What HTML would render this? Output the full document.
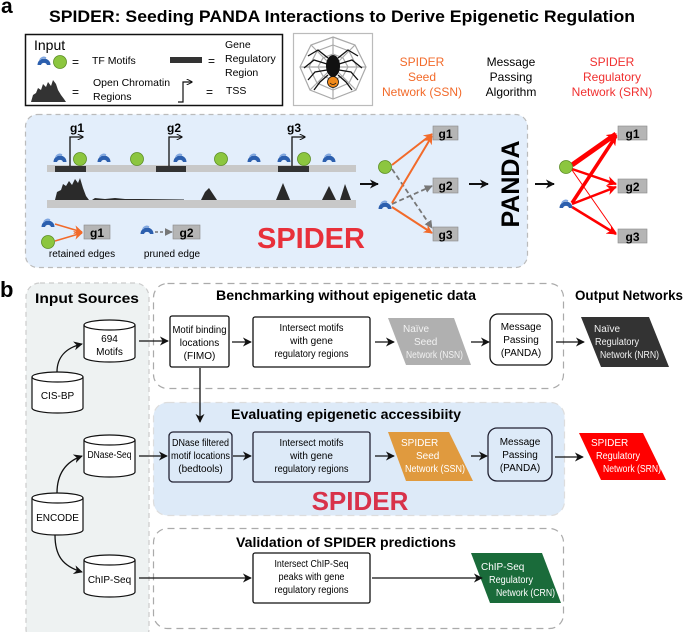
<!DOCTYPE html>
<html><head><meta charset="utf-8"><style>
html,body{margin:0;padding:0;background:#fff;}
svg{display:block;font-family:"Liberation Sans",Arial,sans-serif;}
</style></head><body>
<svg width="685" height="632" viewBox="0 0 685 632" xmlns="http://www.w3.org/2000/svg">
<defs>
<marker id="ak" viewBox="0 0 10 10" refX="9" refY="5" markerWidth="9" markerHeight="9" markerUnits="userSpaceOnUse" orient="auto"><path d="M0,0 L10,5 L0,10 L3,5 Z" fill="#111"/></marker>
<marker id="ao" viewBox="0 0 10 10" refX="9" refY="5" markerWidth="9" markerHeight="9" markerUnits="userSpaceOnUse" orient="auto"><path d="M0,0 L10,5 L0,10 L3,5 Z" fill="#f26a2a"/></marker>
<marker id="ag" viewBox="0 0 10 10" refX="9" refY="5" markerWidth="8" markerHeight="8" markerUnits="userSpaceOnUse" orient="auto"><path d="M0,0 L10,5 L0,10 Z" fill="#777"/></marker>
<marker id="ar" viewBox="0 0 10 10" refX="9" refY="5" markerWidth="10" markerHeight="10" markerUnits="userSpaceOnUse" orient="auto"><path d="M0,0 L10,5 L0,10 L3,5 Z" fill="#f00"/></marker>
<marker id="at" viewBox="0 0 10 10" refX="9" refY="5" markerWidth="6" markerHeight="6" markerUnits="userSpaceOnUse" orient="auto"><path d="M0,0 L10,5 L0,10" fill="none" stroke="#111" stroke-width="1.6"/></marker>
<g id="bm"><path d="M-6.5,3 A6.5,6.5 0 1 1 6.5,3 L3,3 A3.2,3.2 0 0 0 -3,3 Z" fill="#2c5fae"/><path d="M-4,-2 A4,4 0 0 1 2,-4" stroke="#7fa6e0" stroke-width="1.5" fill="none"/></g>
<g id="gm"><circle r="6.5" fill="#8cc63f" stroke="#5b8d24" stroke-width="0.8"/></g>
</defs>

<!-- ===== Part a ===== -->
<text x="1" y="13" font-size="21" font-weight="bold">a</text>
<text x="49" y="22" font-size="17" font-weight="bold" textLength="586" lengthAdjust="spacingAndGlyphs">SPIDER: Seeding PANDA Interactions to Derive Epigenetic Regulation</text>

<rect x="25.5" y="34.5" width="257" height="71" fill="#fff" stroke="#111" stroke-width="1.5"/>
<text x="34" y="50" font-size="14">Input</text>
<use href="#bm" x="44" y="62"/><use href="#gm" x="60" y="62"/>
<text x="72" y="66" font-size="12">=</text>
<text x="92" y="64" font-size="10.5">TF Motifs</text>
<rect x="170" y="57" width="32" height="6" fill="#333"/>
<text x="208" y="65" font-size="12">=</text>
<text x="225" y="48" font-size="10.5">Gene</text>
<text x="225" y="62" font-size="10.5">Regulatory</text>
<text x="225" y="76" font-size="10.5">Region</text>
<path d="M31,102 L33,95 L36,93 L38,88 L41,90 L43,84 L46,87 L48,82 L51,86 L53,80 L56,84 L58,90 L61,95 L64,99 L66,102 Z" fill="#333"/>
<text x="72" y="96" font-size="12">=</text>
<text x="93" y="86" font-size="10.5">Open Chromatin</text>
<text x="93" y="100" font-size="10.5">Regions</text>
<path d="M178,102 L183,102 L183,82 L192,82" fill="none" stroke="#111" stroke-width="1.2" marker-end="url(#at)"/>
<text x="206" y="96" font-size="12">=</text>
<text x="226" y="94" font-size="10.5">TSS</text>

<rect x="293.5" y="33.5" width="79" height="72" fill="#fff" stroke="#bbb" stroke-width="1.2"/>
<g fill="none" stroke="#aaa" stroke-width="1.2">
<polygon points="333,37 355,45 366,67 356,90 333,99 310,90 300,67 311,45"/>
<polygon points="333,45 349,51 357,67 349,83 333,90 317,83 309,67 317,51"/>
<polygon points="333,54 343,58 348,67 343,76 333,80 323,76 318,67 323,58"/>
<path d="M333,37 L333,99 M300,67 L366,67 M311,45 L356,90 M355,45 L310,90"/>
</g>
<g stroke="#111" stroke-width="1.3" fill="none">
<path d="M328,58 L318,50 L308,56 M327,64 L314,60 L304,68 M327,70 L315,72 L308,80 M328,75 L320,82 L314,90"/>
<path d="M338,58 L348,50 L358,56 M339,64 L352,60 L362,68 M339,70 L351,72 L358,80 M338,75 L346,82 L352,90"/>
</g>
<ellipse cx="333" cy="66" rx="7" ry="11" fill="#111"/>
<circle cx="333" cy="82" r="5.5" fill="#f08a1c" stroke="#111" stroke-width="0.8"/>
<path d="M330,83 Q333,86 336,83" stroke="#111" fill="none" stroke-width="0.8"/>

<g font-size="12" text-anchor="middle">
<text x="422" y="66" fill="#f26a2a">SPIDER</text>
<text x="422" y="81" fill="#f26a2a">Seed</text>
<text x="422" y="96" fill="#f26a2a">Network (SSN)</text>
<text x="511" y="66">Message</text>
<text x="511" y="81">Passing</text>
<text x="511" y="96">Algorithm</text>
<text x="612" y="66" fill="#f03030">SPIDER</text>
<text x="612" y="81" fill="#f03030">Regulatory</text>
<text x="612" y="96" fill="#f03030">Network (SRN)</text>
</g>

<rect x="25.5" y="114.5" width="502" height="153" rx="12" fill="#e3eefb" stroke="#bbb" stroke-width="1.2" stroke-dasharray="5,4"/>
<rect x="47" y="165" width="309" height="7" fill="#c8c8c8"/>
<rect x="55" y="166" width="31" height="6" fill="#333"/>
<rect x="156" y="166" width="30" height="6" fill="#333"/>
<rect x="278" y="166" width="31" height="6" fill="#333"/>
<g fill="none" stroke="#111" stroke-width="1.3">
<path d="M70,166 L70,137 L83,137" marker-end="url(#at)"/>
<path d="M169,166 L169,137 L182,137" marker-end="url(#at)"/>
<path d="M292,166 L292,137 L305,137" marker-end="url(#at)"/>
</g>
<g font-size="12" font-weight="bold" text-anchor="middle">
<text x="77" y="132">g1</text><text x="174" y="132">g2</text><text x="294" y="132">g3</text>
</g>
<use href="#bm" x="60" y="159"/><use href="#gm" x="80" y="159"/><use href="#bm" x="104" y="159"/><use href="#gm" x="137" y="159"/><use href="#bm" x="180" y="159"/><use href="#gm" x="221" y="159"/><use href="#bm" x="254" y="159"/><use href="#bm" x="284" y="159"/><use href="#gm" x="304" y="159"/><use href="#bm" x="329" y="159"/>
<rect x="47" y="200" width="309" height="8" fill="#c8c8c8"/>
<path d="M55,200 L57,192 L61,190 L63,184 L66,186 L69,181 L72,185 L75,179 L78,183 L80,178 L83,188 L86,196 L89,200 Z M92,200 L95,198 L105,199 L115,198 L125,199 L140,199 L184,199.5 L184,200 Z M201,200 L205,192 L209,188 L213,194 L217,200 Z M276,200 L283,183 L290,200 Z M322,200 L329,186 L336,200 Z M340,200 L345,184 L351,200 Z" fill="#2a2a2a"/>

<use href="#bm" x="48" y="224"/><use href="#gm" x="48" y="242"/>
<line x1="55" y1="224" x2="82" y2="232" stroke="#f26a2a" stroke-width="1.5" marker-end="url(#ao)"/>
<line x1="55" y1="241" x2="82" y2="233" stroke="#f26a2a" stroke-width="1.5" marker-end="url(#ao)"/>
<rect x="84" y="225" width="26" height="14" fill="#b5b5b5" stroke="#888" stroke-width="0.6"/>
<text x="97" y="237" font-size="12" font-weight="bold" text-anchor="middle">g1</text>
<use href="#bm" x="147" y="231"/>
<line x1="155" y1="232" x2="172" y2="232" stroke="#777" stroke-width="1.4" stroke-dasharray="3,2" marker-end="url(#ag)"/>
<rect x="173" y="225" width="27" height="14" fill="#b5b5b5" stroke="#888" stroke-width="0.6"/>
<text x="186.5" y="237" font-size="12" font-weight="bold" text-anchor="middle">g2</text>
<text x="82" y="257" font-size="10" text-anchor="middle">retained edges</text>
<text x="172" y="257" font-size="10" text-anchor="middle">pruned edge</text>
<text x="311" y="248" font-size="29" font-weight="bold" fill="#e8303a" text-anchor="middle">SPIDER</text>

<line x1="360" y1="184" x2="378" y2="184" stroke="#111" stroke-width="2" marker-end="url(#ak)"/>
<line x1="469" y1="184" x2="488" y2="184" stroke="#111" stroke-width="2" marker-end="url(#ak)"/>
<line x1="535" y1="184" x2="554" y2="184" stroke="#111" stroke-width="2" marker-end="url(#ak)"/>
<text x="0" y="0" font-size="25" font-weight="bold" text-anchor="middle" transform="translate(519,184) rotate(-90)">PANDA</text>

<line x1="392" y1="169" x2="432" y2="228" stroke="#777" stroke-width="1.8" stroke-dasharray="5,3" marker-end="url(#ag)"/>
<line x1="392" y1="204" x2="432" y2="186" stroke="#777" stroke-width="1.8" stroke-dasharray="5,3" marker-end="url(#ag)"/>
<line x1="392" y1="165" x2="432" y2="134" stroke="#f26a2a" stroke-width="2" marker-end="url(#ao)"/>
<line x1="392" y1="203" x2="432" y2="136" stroke="#f26a2a" stroke-width="2" marker-end="url(#ao)"/>
<line x1="392" y1="207" x2="432" y2="233" stroke="#f26a2a" stroke-width="2" marker-end="url(#ao)"/>
<use href="#gm" x="385" y="167"/><use href="#bm" x="385" y="206"/>
<g font-size="12" font-weight="bold" text-anchor="middle">
<rect x="433" y="126" width="25" height="14" fill="#b5b5b5" stroke="#888" stroke-width="0.6"/><text x="445.5" y="138">g1</text>
<rect x="433" y="178" width="25" height="15" fill="#b5b5b5" stroke="#888" stroke-width="0.6"/><text x="445.5" y="190">g2</text>
<rect x="433" y="227" width="25" height="14" fill="#b5b5b5" stroke="#888" stroke-width="0.6"/><text x="445.5" y="239">g3</text>
</g>

<g stroke="#f00" fill="none">
<line x1="572" y1="165" x2="616" y2="134" stroke-width="5" marker-end="url(#ar)"/>
<line x1="572" y1="203" x2="616" y2="136" stroke-width="3.5" marker-end="url(#ar)"/>
<line x1="572" y1="169" x2="616" y2="184" stroke-width="2.5" marker-end="url(#ar)"/>
<line x1="572" y1="204" x2="616" y2="187" stroke-width="2.5" marker-end="url(#ar)"/>
<line x1="572" y1="170" x2="616" y2="233" stroke-width="1"/>
<line x1="572" y1="207" x2="616" y2="234" stroke-width="2.5" marker-end="url(#ar)"/>
</g>
<use href="#gm" x="566" y="167"/><use href="#bm" x="566" y="205"/>
<g font-size="12" font-weight="bold" text-anchor="middle">
<rect x="618" y="126" width="29" height="14" fill="#b5b5b5" stroke="#888" stroke-width="0.6"/><text x="632.5" y="138">g1</text>
<rect x="618" y="179" width="29" height="14" fill="#b5b5b5" stroke="#888" stroke-width="0.6"/><text x="632.5" y="191">g2</text>
<rect x="618" y="229" width="29" height="14" fill="#b5b5b5" stroke="#888" stroke-width="0.6"/><text x="632.5" y="241">g3</text>
</g>

<!-- ===== Part b ===== -->
<text x="0" y="297" font-size="22" font-weight="bold">b</text>
<rect x="26" y="283" width="123" height="360" rx="14" fill="#eef2f2" stroke="#ccc" stroke-width="1.2" stroke-dasharray="5,4"/>
<text x="87" y="303" font-size="14" font-weight="bold" text-anchor="middle" textLength="104" lengthAdjust="spacingAndGlyphs">Input Sources</text>
<rect x="153.5" y="283.5" width="410" height="105" rx="14" fill="none" stroke="#aaa" stroke-width="1.2" stroke-dasharray="7,5"/>
<text x="346" y="300" font-size="14" font-weight="bold" text-anchor="middle" textLength="260" lengthAdjust="spacingAndGlyphs">Benchmarking without epigenetic data</text>
<text x="575" y="300" font-size="14" font-weight="bold" textLength="108" lengthAdjust="spacingAndGlyphs">Output Networks</text>

<rect x="153.5" y="402.5" width="411" height="113" rx="14" fill="#ddeaf8" stroke="#ddd" stroke-width="1.2" stroke-dasharray="7,5"/>
<text x="346" y="419" font-size="14" font-weight="bold" text-anchor="middle" textLength="230" lengthAdjust="spacingAndGlyphs">Evaluating epigenetic accessibiity</text>
<text x="360" y="510" font-size="26" font-weight="bold" fill="#d8324a" text-anchor="middle">SPIDER</text>

<rect x="153.5" y="528.5" width="410" height="100" rx="14" fill="none" stroke="#aaa" stroke-width="1.2" stroke-dasharray="7,5"/>
<text x="346" y="547" font-size="14" font-weight="bold" text-anchor="middle" textLength="220" lengthAdjust="spacingAndGlyphs">Validation of SPIDER predictions</text>

<g fill="#fff" stroke="#111" stroke-width="1.2">
<path d="M84,325 L84,357 A25.5,5 0 0 0 135,357 L135,325"/><ellipse cx="109.5" cy="325" rx="25.5" ry="5"/>
<path d="M32,377 L32,408 A25.5,5 0 0 0 83,408 L83,377"/><ellipse cx="57.5" cy="377" rx="25.5" ry="5"/>
<path d="M84,440 L84,472 A25.5,5 0 0 0 135,472 L135,440"/><ellipse cx="109.5" cy="440" rx="25.5" ry="5"/>
<path d="M32,498 L32,530 A25.5,5 0 0 0 83,530 L83,498"/><ellipse cx="57.5" cy="498" rx="25.5" ry="5"/>
<path d="M84,560 L84,592 A25.5,5 0 0 0 135,592 L135,560"/><ellipse cx="109.5" cy="560" rx="25.5" ry="5"/>
</g>
<g font-size="10" text-anchor="middle">
<text x="109.5" y="342">694</text><text x="109.5" y="355">Motifs</text>
<text x="57.5" y="399">CIS-BP</text>
<text x="109.5" y="458" textLength="44" lengthAdjust="spacingAndGlyphs">DNase-Seq</text>
<text x="57.5" y="521">ENCODE</text>
<text x="109.5" y="583">ChIP-Seq</text>
</g>
<g fill="none" stroke="#111" stroke-width="1.3">
<path d="M57,372 C57,358 65,348 82,344" marker-end="url(#ak)"/>
<path d="M57,493 C57,475 65,462 82,456" marker-end="url(#ak)"/>
<path d="M55,535 C55,555 62,566 82,572" marker-end="url(#ak)"/>
</g>

<g fill="#fff" stroke="#111" stroke-width="1.3">
<rect x="170" y="316" width="59" height="51" rx="2"/>
<rect x="253" y="317" width="117" height="50" rx="2"/>
<rect x="490" y="314" width="62" height="51" rx="8"/>
</g>
<polygon points="388,318 454,318 471,365 406,365" fill="#b0b0b0"/>
<polygon points="581,317 649,317 669,367 601,367" fill="#333"/>
<g font-size="10" text-anchor="middle">
<text x="199.5" y="333" textLength="54" lengthAdjust="spacingAndGlyphs">Motif binding</text><text x="199.5" y="346">locations</text><text x="199.5" y="359">(FIMO)</text>
<text x="311.5" y="331" textLength="64" lengthAdjust="spacingAndGlyphs">Intersect motifs</text><text x="311.5" y="344">with gene</text><text x="311.5" y="357" textLength="74" lengthAdjust="spacingAndGlyphs">regulatory regions</text>
<text x="521" y="330">Message</text><text x="521" y="343">Passing</text><text x="521" y="356">(PANDA)</text>
</g>
<g font-size="10" fill="#f2f2f2">
<text x="403" y="332">Naïve</text><text x="414" y="345">Seed</text><text x="406" y="358" textLength="57" lengthAdjust="spacingAndGlyphs">Network (NSN)</text>
<text x="594" y="332">Naïve</text><text x="595" y="345" textLength="44" lengthAdjust="spacingAndGlyphs">Regulatory</text><text x="600" y="358" textLength="59" lengthAdjust="spacingAndGlyphs">Network (NRN)</text>
</g>
<g stroke="#111" stroke-width="1.3">
<line x1="139" y1="341" x2="168" y2="341" marker-end="url(#ak)"/>
<line x1="232" y1="342" x2="251" y2="342" marker-end="url(#ak)"/>
<line x1="375" y1="342" x2="394" y2="342" marker-end="url(#ak)"/>
<line x1="471" y1="342" x2="489" y2="342" marker-end="url(#ak)"/>
<line x1="556" y1="342" x2="584" y2="342" marker-end="url(#ak)"/>
<line x1="200" y1="368" x2="200" y2="422" marker-end="url(#ak)"/>
</g>

<g stroke-width="1.3">
<rect x="169" y="432" width="63" height="50" rx="4" fill="#ddeaf8" stroke="#223"/>
<rect x="253" y="432" width="117" height="50" rx="2" fill="#ddeaf8" stroke="#223"/>
<rect x="488" y="428" width="64" height="53" rx="9" fill="#ddeaf8" stroke="#223"/>
</g>
<polygon points="388,432 449,432 473,481 406,481" fill="#e09a3e"/>
<polygon points="579,433 643,433 666,480 601,480" fill="#f00"/>
<g font-size="10" text-anchor="middle">
<text x="200.5" y="446" textLength="57" lengthAdjust="spacingAndGlyphs">DNase filtered</text><text x="200.5" y="459" textLength="59" lengthAdjust="spacingAndGlyphs">motif locations</text><text x="200.5" y="472">(bedtools)</text>
<text x="311.5" y="446" textLength="64" lengthAdjust="spacingAndGlyphs">Intersect motifs</text><text x="311.5" y="459">with gene</text><text x="311.5" y="472" textLength="74" lengthAdjust="spacingAndGlyphs">regulatory regions</text>
<text x="520" y="445">Message</text><text x="520" y="458">Passing</text><text x="520" y="471">(PANDA)</text>
</g>
<g font-size="10" fill="#fff">
<text x="401" y="446">SPIDER</text><text x="416" y="459">Seed</text><text x="405" y="472" textLength="60" lengthAdjust="spacingAndGlyphs">Network (SSN)</text>
<text x="591" y="446">SPIDER</text><text x="596" y="459" textLength="44" lengthAdjust="spacingAndGlyphs">Regulatory</text><text x="603" y="472" textLength="58" lengthAdjust="spacingAndGlyphs">Network (SRN)</text>
</g>
<g stroke="#111" stroke-width="1.3">
<line x1="139" y1="456" x2="167" y2="456" marker-end="url(#ak)"/>
<line x1="233" y1="456" x2="251" y2="456" marker-end="url(#ak)"/>
<line x1="375" y1="456" x2="394" y2="456" marker-end="url(#ak)"/>
<line x1="471" y1="456" x2="487" y2="456" marker-end="url(#ak)"/>
<line x1="555" y1="457" x2="583" y2="457" marker-end="url(#ak)"/>
</g>

<rect x="253" y="553" width="117" height="50" rx="2" fill="#fff" stroke="#111" stroke-width="1.3"/>
<polygon points="471,553 542,553 561,603 490,603" fill="#1a6b3a"/>
<g font-size="10" text-anchor="middle">
<text x="311.5" y="567" textLength="74" lengthAdjust="spacingAndGlyphs">Intersect ChIP-Seq</text><text x="311.5" y="580" textLength="66" lengthAdjust="spacingAndGlyphs">peaks with gene</text><text x="311.5" y="593" textLength="74" lengthAdjust="spacingAndGlyphs">regulatory regions</text>
</g>
<g font-size="10" fill="#fff">
<text x="481" y="570">ChIP-Seq</text><text x="489" y="583" textLength="44" lengthAdjust="spacingAndGlyphs">Regulatory</text><text x="496" y="596" textLength="59" lengthAdjust="spacingAndGlyphs">Network (CRN)</text>
</g>
<g stroke="#111" stroke-width="1.3">
<line x1="139" y1="578" x2="251" y2="578" marker-end="url(#ak)"/>
<line x1="372" y1="578" x2="482" y2="578" marker-end="url(#ak)"/>
</g>
</svg>
</body></html>
